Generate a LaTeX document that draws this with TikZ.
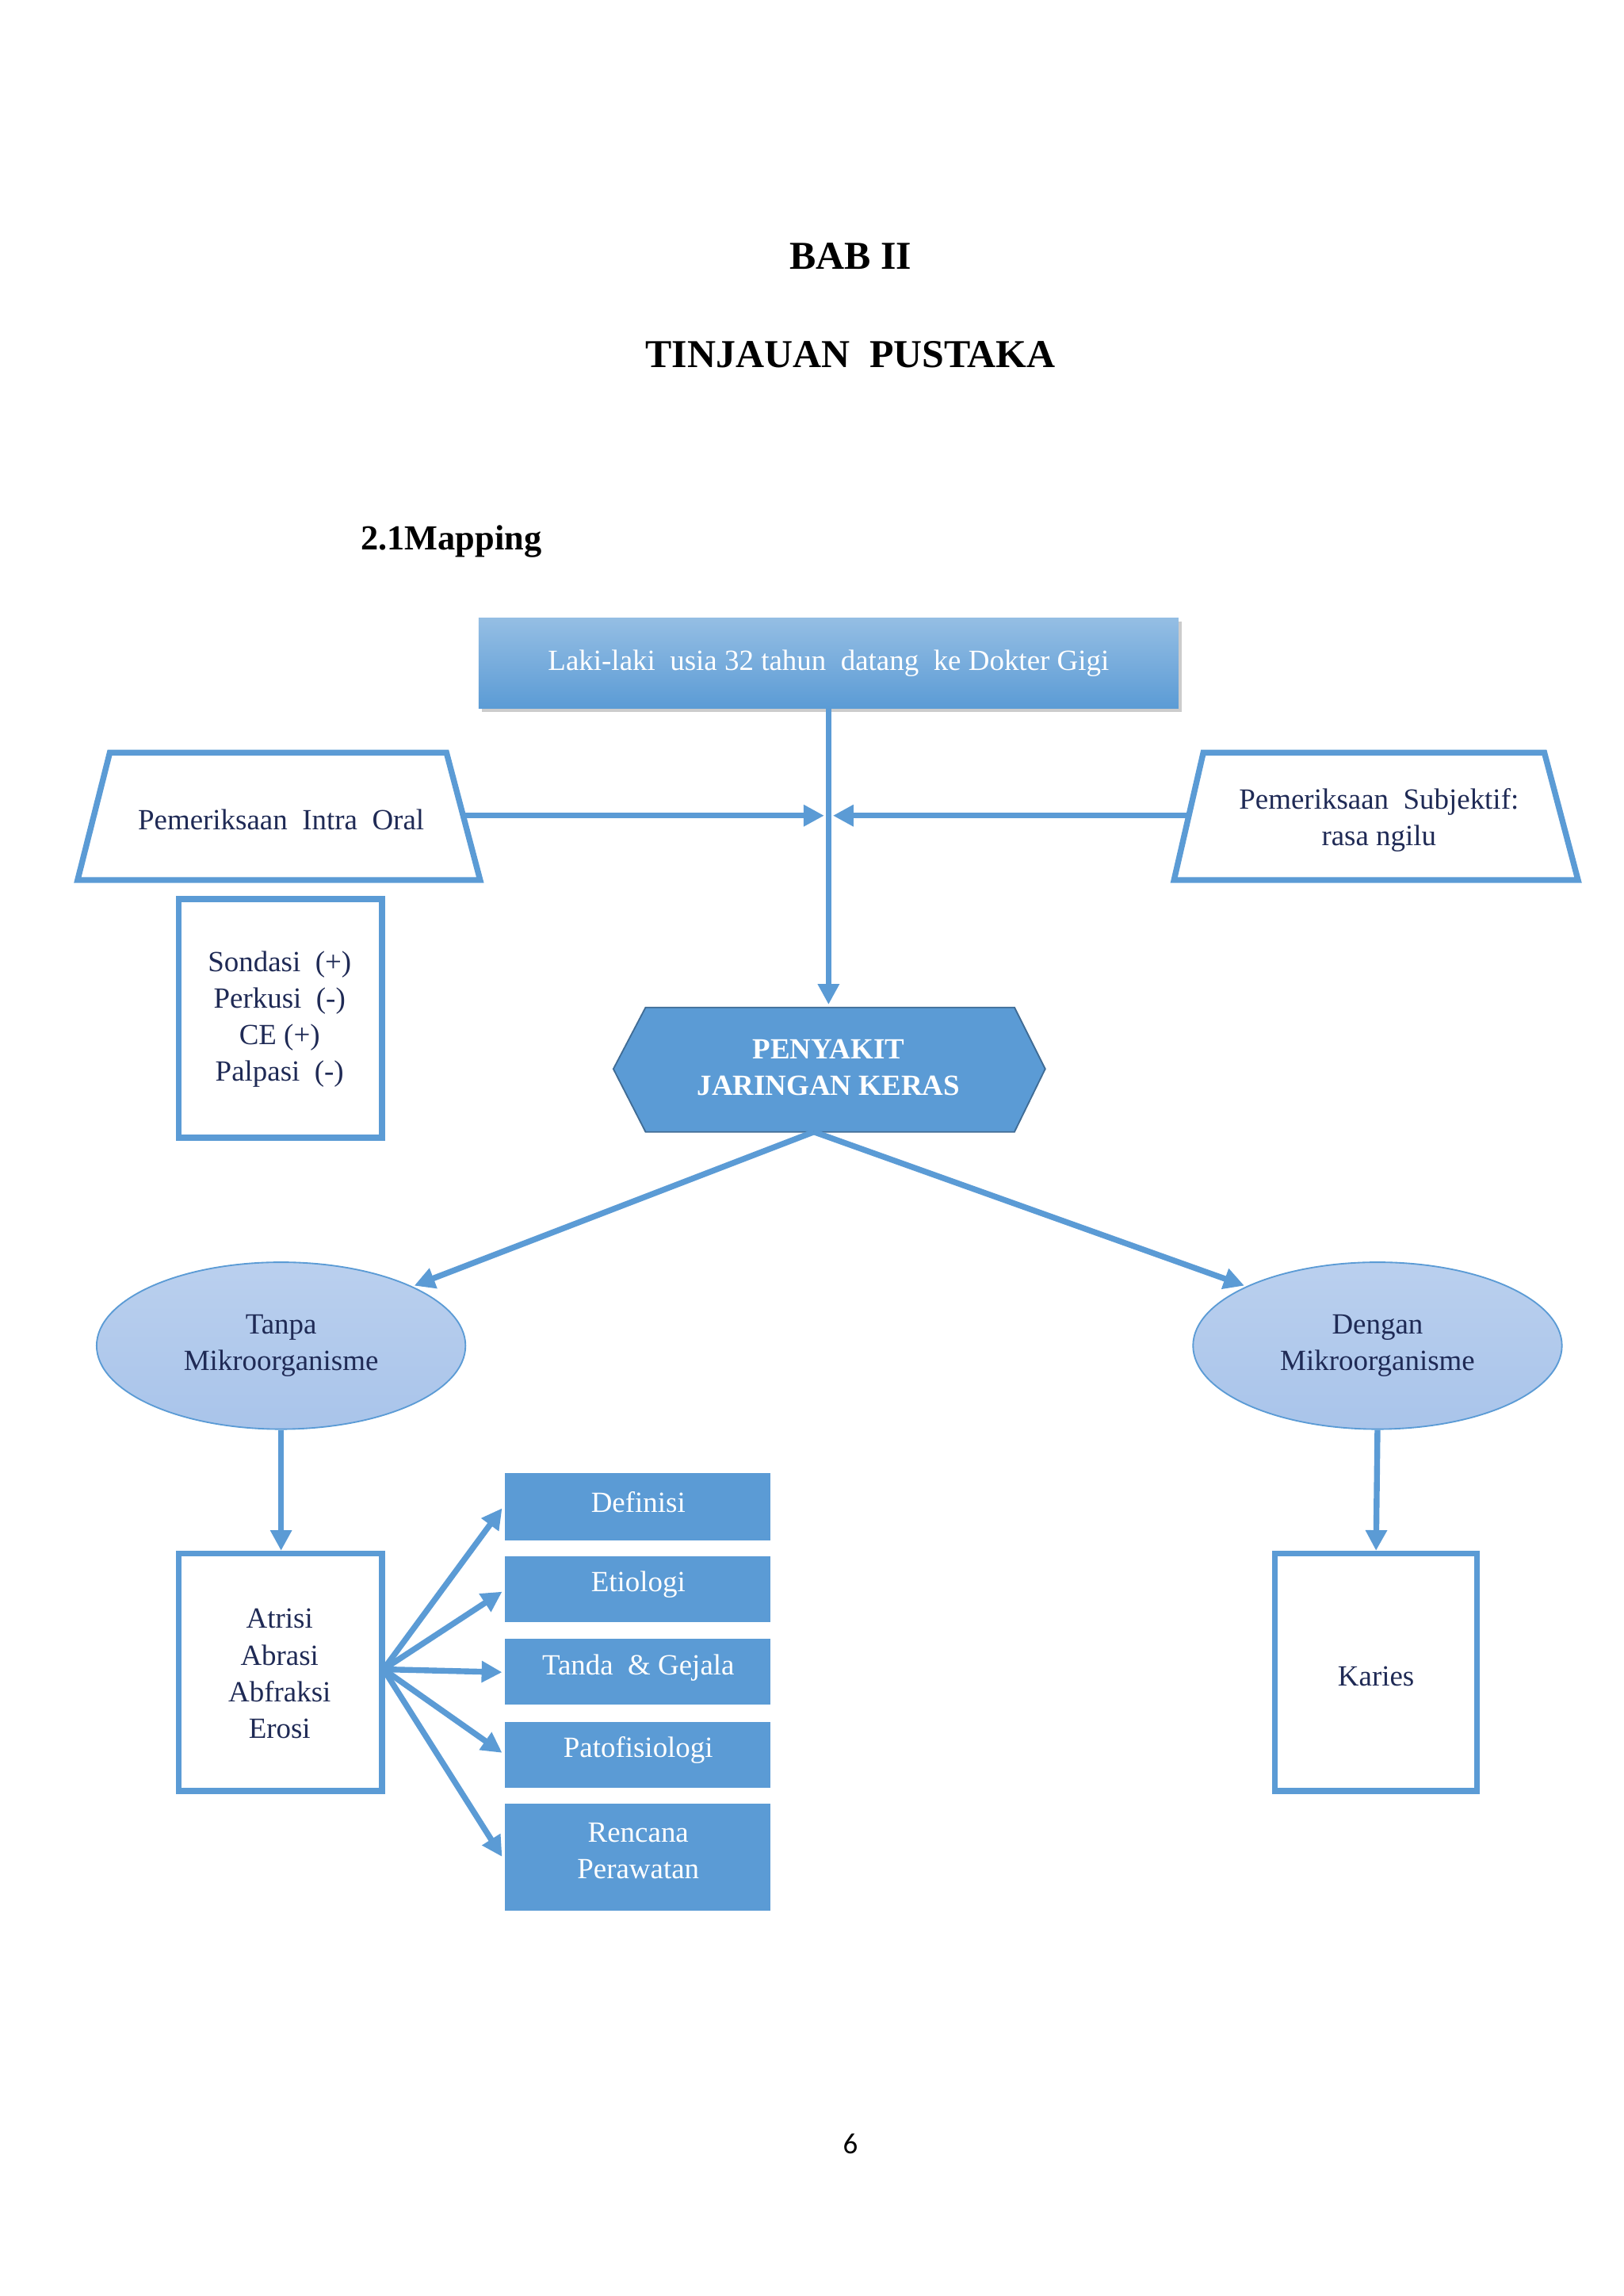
\documentclass[tikz,border=0pt]{standalone}
\usepackage{fontspec}
\setmainfont{Liberation Serif}
\newfontfamily\sansf{Carlito}
\usetikzlibrary{arrows.meta,shadows,shapes.geometric}
\definecolor{bl}{HTML}{5B9BD5}
\definecolor{tx}{HTML}{1F2A55}
\definecolor{lb}{HTML}{A9C4EA}
\begin{document}
\begin{tikzpicture}[x=1pt,y=-1pt,
 ln/.style={draw=bl,line width=4pt},
 ar/.style={bl,line width=4pt,-{Triangle[length=14pt,width=14pt]}},
 t/.style={text=tx,font=\fontsize{20}{25}\selectfont,align=center},
 wt/.style={text=white,font=\fontsize{20}{25}\selectfont,align=center}]
\useasboundingbox (0,0) rectangle (1109,1568);
\node[font=\bfseries\fontsize{27}{30}\selectfont] (h1) at (581,175) {BAB II};
\node[font=\bfseries\fontsize{27}{30}\selectfont] (h2) at (581,242) {TINJAUAN\ \ PUSTAKA};
\node[font=\bfseries\fontsize{24}{28}\selectfont,anchor=west] (h3) at (243,370) {2.1Mapping};
% top box
\node[top color=bl!65,bottom color=bl,draw=none,minimum width=478pt,minimum height=62pt,drop shadow={opacity=0.4},wt] (top) at (566,453) {Laki-laki\ \ usia\ 32 tahun\ \ datang\ \ ke Dokter Gigi};
% trapezoids
\draw[ln,fill=white] (75,514)--(305,514)--(328,601)--(53,601)--cycle;
\node[t] (io) at (192,560) {Pemeriksaan\ \ Intra\ \ Oral};
\draw[ln,fill=white] (822,514)--(1055,514)--(1078,601)--(802,601)--cycle;
\node[t] (sb) at (942,560) {Pemeriksaan\ \ Subjektif:\\rasa ngilu};
\coordinate (jl) at (318,557);
\coordinate (jr) at (812,557);
\draw[ar] (jl)--(563,557);
\draw[ar] (jr)--(569,557);
% sondasi
\draw[ln] (122,614) rectangle (261,777);
\node[t] (so) at (191,696) {Sondasi\ \ (+)\\Perkusi\ \ (-)\\CE (+)\\Palpasi\ \ (-)};
% hexagon
\draw[fill=bl,draw=bl!70!black,line width=1pt] (441,688)--(693,688)--(714,730)--(693,773)--(441,773)--(419,730)--cycle;
\node[text=white,font=\bfseries\fontsize{20}{25}\selectfont,align=center] (hx) at (566,729) {PENYAKIT\\JARINGAN KERAS};
\coordinate (hxb) at (556,773);
\draw[ar] (top.south)--(566,686);
% ellipses
\node[ellipse,minimum width=252pt,minimum height=114pt,top color=lb!80,bottom color=lb,draw=bl,line width=1pt,inner sep=0] (el) at (192,919) {};
\node[t] at (192,919) {Tanpa\\Mikroorganisme};
\node[ellipse,minimum width=252pt,minimum height=114pt,top color=lb!80,bottom color=lb,draw=bl,line width=1pt,inner sep=0] (er) at (941,919) {};
\node[t] at (941,919) {Dengan\\Mikroorganisme};
\draw[ar] (hxb)--(283,878);
\draw[ar] (hxb)--(850,878);
\draw[ar] (el.south)--(192,1059);
\draw[ar] (er.south)--(940,1059);
% bottom boxes
\draw[ln] (122,1061) rectangle (261,1223);
\node[t] (at) at (191,1143) {Atrisi\\Abrasi\\Abfraksi\\Erosi};
\draw[ln] (871,1061) rectangle (1009,1223);
\node[t] (ka) at (940,1145) {Karies};
\fill[bl] (345,1006) rectangle (526,1052); \node[wt] (d1) at (436,1026) {Definisi};
\fill[bl] (345,1063) rectangle (526,1108); \node[wt] (d2) at (436,1082) {Etiologi};
\fill[bl] (345,1119) rectangle (526,1164); \node[wt] (d3) at (436,1139) {Tanda\ \ \&\ Gejala};
\fill[bl] (345,1176) rectangle (526,1221); \node[wt] (d4) at (436,1195) {Patofisiologi};
\fill[bl] (345,1232) rectangle (526,1305); \node[wt] (d5) at (436,1264) {Rencana\\Perawatan};
\coordinate (src) at (262,1140);
\foreach \y in {1030,1087,1142,1197,1268} \draw[ar] (src)--(343,\y);
\node[font=\sansf\fontsize{20}{24}\selectfont] (pg) at (581,1464) {6};
\end{tikzpicture}
\end{document}
